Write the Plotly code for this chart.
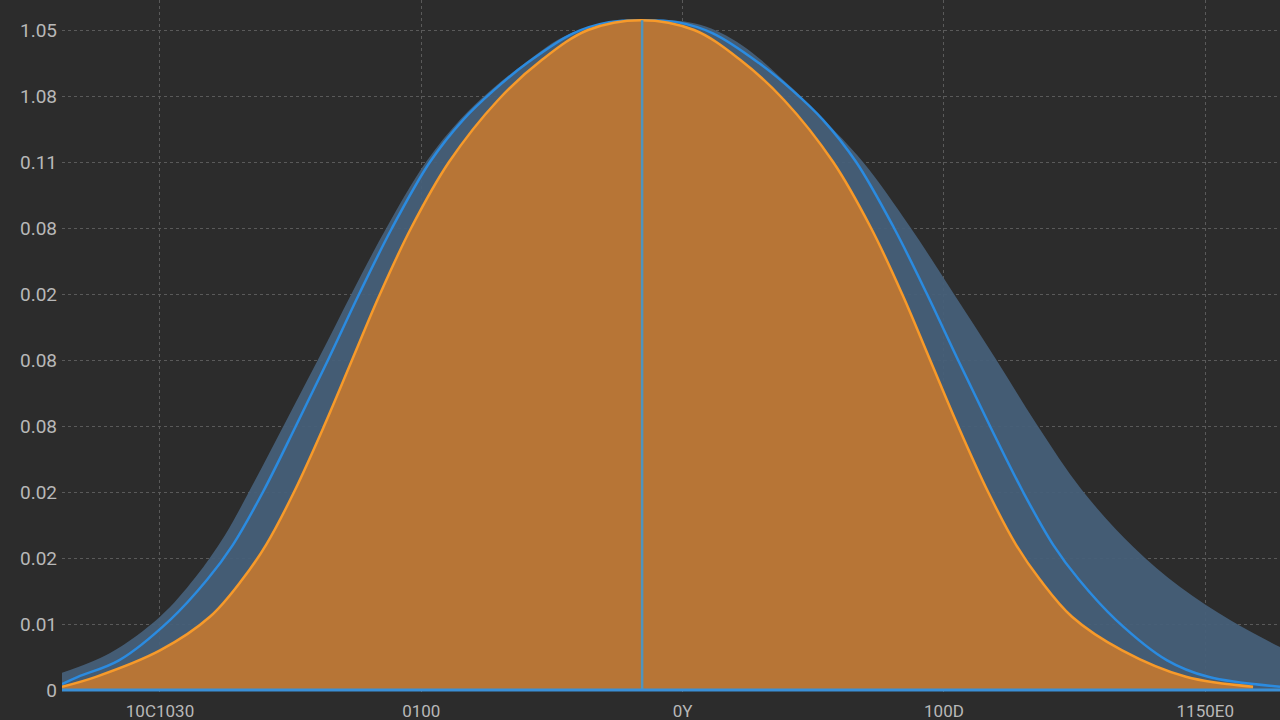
import plotly.graph_objects as go

# x positions are in tick units (tick k sits at x = k), y in gridline units
x_ticks = [0, 1, 2, 3, 4]
x_labels = ["10C1030", "0100", "0Y", "100D", "1150E0"]
y_ticks = [0, 1, 2, 3, 4, 5, 6, 7, 8, 9, 10]
y_labels = ["0", "0.01", "0.02", "0.02", "0.08", "0.08", "0.02", "0.08", "0.11", "1.08", "1.05"]

# wide shaded band (upper edge)
band_x = [-0.375, -0.191, 0.0, 0.134, 0.249, 0.344, 0.475, 0.608, 0.735, 0.869,
          1.018, 1.148, 1.267, 1.397, 1.573, 1.848, 2.067, 2.227, 2.419, 2.533,
          2.690, 2.870, 3.035, 3.196, 3.356, 3.528, 3.724, 3.904, 4.095, 4.286]
band_y = [0.26, 0.56, 1.11, 1.7, 2.35, 3.03, 4.02, 5.03, 6.02, 7.02,
          8.0, 8.64, 9.09, 9.5, 9.95, 10.15, 10.08, 9.77, 9.12, 8.67,
          8.0, 7.02, 6.02, 5.03, 4.02, 3.03, 2.17, 1.56, 1.06, 0.65]

# blue curve
blue_x = [-0.375, -0.314, -0.157, 0.038, 0.180, 0.279, 0.394, 0.520, 0.643, 0.762,
          0.888, 1.033, 1.160, 1.278, 1.405, 1.581, 1.718, 1.848, 1.979, 2.116,
          2.292, 2.419, 2.537, 2.664, 2.809, 2.935, 3.054, 3.176, 3.303, 3.418,
          3.517, 3.659, 3.854, 4.011, 4.286]
blue_y = [0.09, 0.2, 0.45, 1.06, 1.67, 2.2, 3.0, 4.0, 5.0, 6.0,
          7.0, 8.0, 8.64, 9.09, 9.5, 9.95, 10.12, 10.15, 10.12, 9.95,
          9.5, 9.09, 8.64, 8.0, 7.0, 6.0, 5.0, 4.0, 3.0, 2.2,
          1.67, 1.06, 0.45, 0.2, 0.05]

# orange filled curve
orange_x = [-0.375, -0.245, 0.0, 0.191, 0.314, 0.406, 0.513, 0.628, 0.735, 0.842,
            0.961, 1.106, 1.294, 1.462, 1.638, 1.841, 2.044, 2.220, 2.388, 2.576,
            2.721, 2.840, 2.947, 3.054, 3.169, 3.276, 3.368, 3.490, 3.682, 3.926, 4.183]
orange_y = [0.05, 0.2, 0.6, 1.11, 1.67, 2.2, 3.0, 4.0, 5.0, 6.0,
            7.0, 8.0, 8.94, 9.55, 10.0, 10.15, 10.0, 9.55, 8.94, 8.0,
            7.0, 6.0, 5.0, 4.0, 3.0, 2.2, 1.67, 1.11, 0.6, 0.2, 0.05]

mean_x = 1.845
peak_y = 10.15

fig = go.Figure()

fig.add_trace(go.Scatter(
    x=band_x, y=band_y, mode='lines', fill='tozeroy',
    line=dict(width=0, shape='spline', color='rgba(0,0,0,0)'),
    fillcolor='rgba(70,96,122,0.93)', hoverinfo='skip', showlegend=False
))
fig.add_trace(go.Scatter(
    x=blue_x, y=blue_y, mode='lines',
    line=dict(color='#2b8be0', width=2.5, shape='spline'),
    showlegend=False
))
fig.add_trace(go.Scatter(
    x=orange_x, y=orange_y, mode='lines', fill='tozeroy',
    line=dict(color='#f79a2a', width=2.5, shape='spline'),
    fillcolor='rgba(190,118,51,0.95)', showlegend=False
))

# mean marker and baseline
fig.add_shape(type='line', x0=mean_x, x1=mean_x, y0=0, y1=peak_y,
              line=dict(color='#4f94bd', width=2.5))
fig.add_shape(type='line', xref='paper', x0=0, x1=1, y0=0, y1=0,
              line=dict(color='#3a8fd6', width=3))

fig.update_layout(
    width=1280, height=720,
    paper_bgcolor='#2c2c2c', plot_bgcolor='#2c2c2c',
    margin=dict(l=62, r=0, t=0, b=28),
    font=dict(family='Roboto', size=19, color='#b8b8b8'),
    xaxis=dict(
        range=[-0.375, 4.286], tickvals=x_ticks, ticktext=x_labels,
        showgrid=True, gridcolor='#5a5a5a', griddash='dot', gridwidth=1,
        zeroline=False, showline=False, ticks='', ticklabelstandoff=7,
        tickfont=dict(size=17), automargin=False
    ),
    yaxis=dict(
        range=[-0.03, 10.455], tickvals=y_ticks, ticktext=y_labels,
        showgrid=True, gridcolor='#5a5a5a', griddash='dot', gridwidth=1,
        zeroline=False, showline=False, ticks='', ticklabelstandoff=4,
        automargin=False
    ),
)

# drop the default page margin so the chart sits at the window's corner
fig.write_html(
    "out.html",
    config={'displayModeBar': False},
    post_script="document.body.style.margin='0';document.body.style.overflow='hidden';"
)
